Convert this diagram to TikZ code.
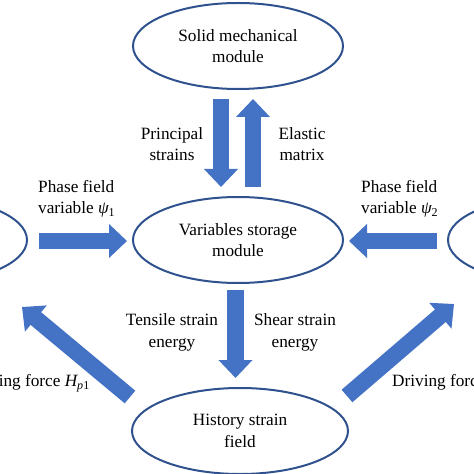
\documentclass[tikz,border=0pt]{standalone}
\usepackage{fontspec}
\setmainfont{Liberation Serif}
\usetikzlibrary{arrows.meta,shapes.geometric}
\definecolor{arrowblue}{RGB}{68,114,196}
\definecolor{edgeblue}{RGB}{47,82,143}
\begin{document}
\begin{tikzpicture}[x=1bp,y=-1bp,
  module/.style={ellipse, draw=edgeblue, line width=2bp, minimum width=210bp,
    minimum height=86bp, inner sep=0pt, align=center,
    font=\fontsize{17.3}{21.5}\selectfont},
  lbl/.style={align=center, inner sep=0pt, font=\fontsize{17.3}{21.5}\selectfont},
  blockarrow/.style={draw=arrowblue, line width=16.5bp,
    -{Triangle[width=33bp,length=18bp]}}]
\useasboundingbox (0,0) rectangle (474,474);
\clip (0,0) rectangle (474,474);
% modules
\node[module] (solid) at (238,46) {Solid mechanical\\module};
\node[module] (storage) at (238,240) {Variables storage\\module};
\node[module, minimum width=216bp] (history) at (240,431) {History strain\\field};
\node[module] (leftmod) at (-78,240) {};
\node[module] (rightmod) at (553,240) {};
% arrow end points
\coordinate (ps0) at (221,99);   \coordinate (ps1) at (221,187);
\coordinate (em0) at (253,187);  \coordinate (em1) at (253,99);
\coordinate (pa0) at (39,241);   \coordinate (pa1) at (127,241);
\coordinate (pb0) at (437,241);  \coordinate (pb1) at (349,241);
\coordinate (se0) at (235.5,290); \coordinate (se1) at (235.5,378);
\coordinate (da0) at (130,397);  \coordinate (da1) at (22,307);
\coordinate (db0) at (347,396);  \coordinate (db1) at (454,304);
% arrows
\draw[blockarrow] (ps0) -- (ps1);
\draw[blockarrow] (em0) -- (em1);
\draw[blockarrow] (pa0) -- (pa1);
\draw[blockarrow] (pb0) -- (pb1);
\draw[blockarrow] (se0) -- (se1);
\draw[blockarrow] (da0) -- (da1);
\draw[blockarrow] (db0) -- (db1);
% labels
\node[lbl] (lps) at (172,144) {Principal\\strains};
\node[lbl] (lem) at (302,144) {Elastic\\matrix};
\node[lbl, align=left, anchor=west] (lph1) at (38,198.5) {Phase field\\variable {\itshape ψ}\textsubscript{1}};
\node[lbl, align=left, anchor=west] (lph2) at (361,198.5) {Phase field\\variable {\itshape ψ}\textsubscript{2}};
\node[lbl] (lte) at (172,332.5) {Tensile strain\\energy};
\node[lbl] (lse) at (295,332.5) {Shear strain\\energy};
\node[lbl, anchor=east] (ldf1) at (90,383) {Driving force {\itshape H}\textsubscript{{\itshape p}1}};
\node[lbl, anchor=west] (ldf2) at (392,383) {Driving force {\itshape H}\textsubscript{{\itshape p}2}};
\end{tikzpicture}
\end{document}
